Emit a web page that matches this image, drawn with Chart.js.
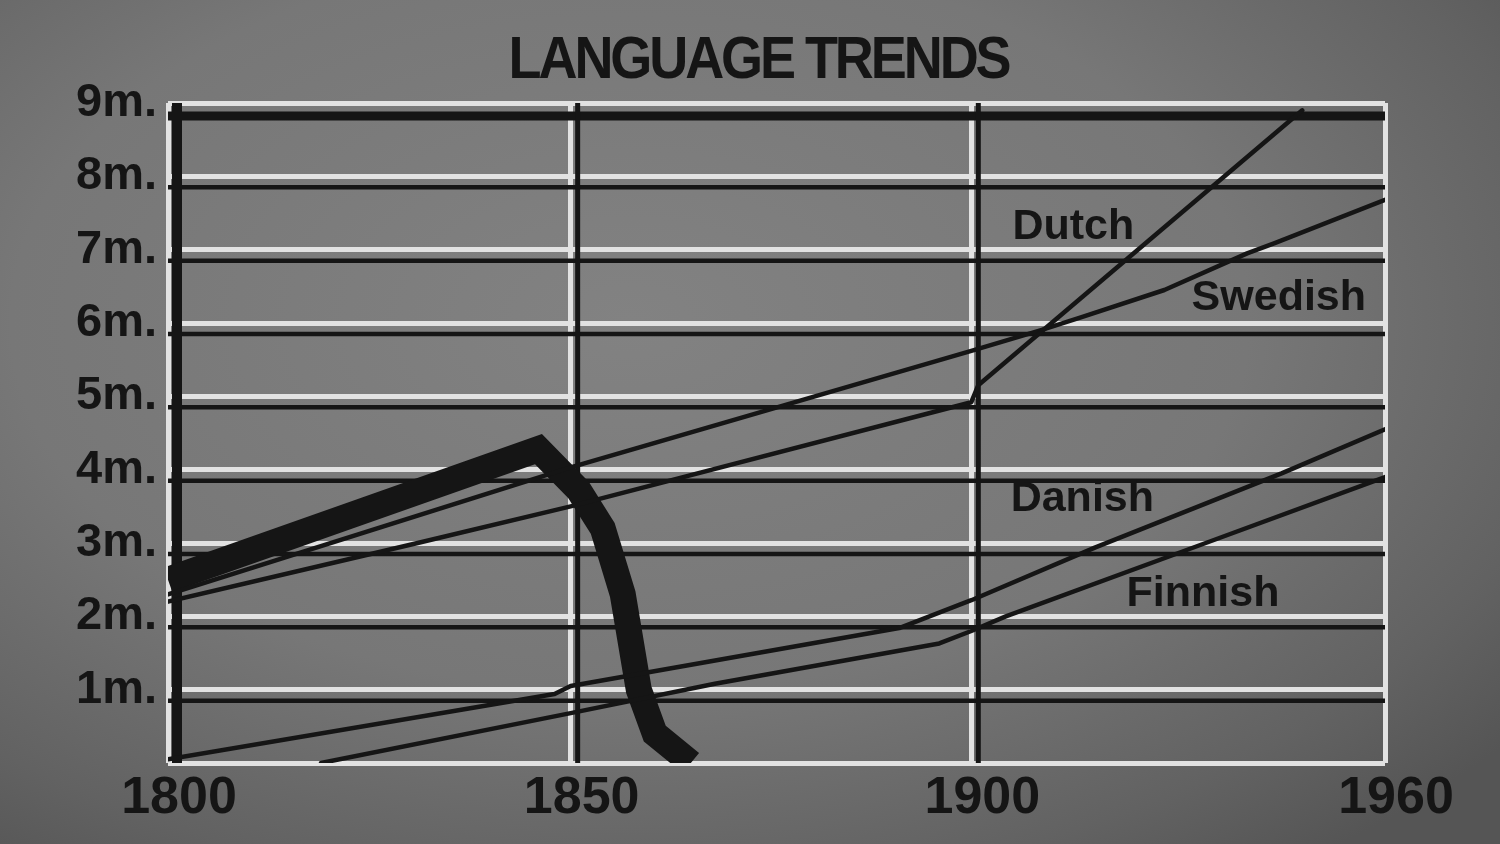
<!DOCTYPE html>
<html>
<head>
<meta charset="utf-8">
<title>Language Trends</title>
<script src="https://cdn.jsdelivr.net/npm/chart.js@4.4.1/dist/chart.umd.min.js"></script>
<style>
  html, body { margin: 0; padding: 0; overflow: hidden; }
  body {
    width: 1500px; height: 844px;
    background: radial-gradient(ellipse 75% 80% at 42% 38%, #828282 0%, #777777 55%, #626262 85%, #555555 100%);
  }
  #wrap { position: relative; width: 1500px; height: 844px; }
</style>
</head>
<body>
<div id="wrap"><canvas id="trendChart"></canvas></div>
<script>
// values in millions of speakers
const titleText = 'LANGUAGE TRENDS';
const xTicks = [1800, 1850, 1900, 1960];
const xTickLabels = ['1800', '1850', '1900', '1960'];
const yTickLabels = ['', '1m.', '2m.', '3m.', '4m.', '5m.', '6m.', '7m.', '8m.', '9m.'];

const irishYears = [1800, 1846, 1851, 1854, 1856.5, 1858.5, 1860.5, 1865];
const irishValues = [2.5, 4.28, 3.72, 3.2, 2.3, 1.0, 0.4, 0];

const dutchYears = [1800, 1831, 1850, 1900, 1901, 1948];
const dutchValues = [2.2, 3.0, 3.5, 4.92, 5.15, 8.9];

const swedishYears = [1800, 1850, 1900, 1910, 1916, 1928, 1940, 1944, 1960];
const swedishValues = [2.3, 4.03, 5.62, 5.9, 6.08, 6.45, 6.95, 7.09, 7.68];

const danishYears = [1800, 1848, 1850, 1891, 1900, 1918, 1945, 1960];
const danishValues = [0.05, 0.94, 1.05, 1.84, 2.22, 2.94, 3.95, 4.55];

const finnishYears = [1819, 1850, 1868, 1896, 1900, 1905, 1934, 1960];
const finnishValues = [0, 0.68, 1.08, 1.63, 1.8, 2.0, 3.0, 3.9];

const toPoints = (xs, ys) => xs.map((x, i) => ({ x: x, y: ys[i] }));

// the drawn time axis is not to scale: each period gets its own width
const segmentWidths = [402, 400, 413];

class SegmentScale extends Chart.LinearScale {
  static id = 'segment';
  static defaults = Chart.LinearScale.defaults;

  fractions() {
    const total = segmentWidths.reduce((a, b) => a + b, 0);
    const f = [0];
    segmentWidths.forEach(w => f.push(f[f.length - 1] + w / total));
    return f;
  }
  getPixelForValue(value) {
    if (value === null || value === undefined || isNaN(value)) return NaN;
    const b = xTicks, f = this.fractions();
    let i = 0;
    while (i < b.length - 2 && value > b[i + 1]) i++;
    const d = f[i] + (value - b[i]) / (b[i + 1] - b[i]) * (f[i + 1] - f[i]);
    return this.getPixelForDecimal(d);
  }
  getValueForPixel(pixel) {
    const d = this.getDecimalForPixel(pixel);
    const b = xTicks, f = this.fractions();
    let i = 0;
    while (i < f.length - 2 && d > f[i + 1]) i++;
    return b[i] + (d - f[i]) / (f[i + 1] - f[i]) * (b[i + 1] - b[i]);
  }
}
Chart.register(SegmentScale);

const ink = '#151515';
const font = "'Liberation Sans', Arial, Helvetica, sans-serif";

// black rules of the printed chart, sitting just off the white grid
const shadowGrid = {
  id: 'shadowGrid',
  beforeDatasetsDraw(chart) {
    const { ctx, chartArea: a, scales } = chart;
    ctx.save();
    ctx.strokeStyle = ink;
    for (let v = 1; v <= 9; v++) {
      const py = scales.y.getPixelForValue(v) + (v === 9 ? 13 : 11);
      ctx.lineWidth = v === 9 ? 9 : 4.5;
      ctx.beginPath();
      ctx.moveTo(a.left, py);
      ctx.lineTo(a.right, py);
      ctx.stroke();
    }
    xTicks.slice(0, -1).forEach((t, i) => {
      const px = scales.x.getPixelForValue(t) + (i === 0 ? 9 : 7);
      ctx.lineWidth = i === 0 ? 10 : 5;
      ctx.beginPath();
      ctx.moveTo(px, a.top);
      ctx.lineTo(px, a.bottom);
      ctx.stroke();
    });
    ctx.restore();
  }
};

// title and the names written beside the lines
const chartText = {
  id: 'chartText',
  afterDraw(chart, args, opts) {
    const { ctx, scales } = chart;
    ctx.save();
    ctx.fillStyle = ink;
    ctx.textAlign = 'center';
    ctx.textBaseline = 'middle';

    // the title lettering is slightly condensed and tightly set
    ctx.font = 'bold 60px ' + font;
    const plain = ctx.measureText(titleText).width;
    const squeeze = 0.9;
    ctx.save();
    ctx.translate(opts.titleX, opts.titleY);
    ctx.scale(squeeze, 1);
    if ('letterSpacing' in ctx) {
      const gap = (opts.titleWidth / squeeze - plain) / (titleText.length - 1);
      ctx.letterSpacing = gap + 'px';
      ctx.fillText(titleText, -gap / 2, 0);
    } else {
      ctx.scale(opts.titleWidth / (plain * squeeze), 1);
      ctx.fillText(titleText, 0, 0);
    }
    ctx.restore();

    ctx.font = 'bold 43px ' + font;
    opts.labels.forEach(l => {
      ctx.fillText(l.text, scales.x.getPixelForValue(l.year), scales.y.getPixelForValue(l.value));
    });
    ctx.restore();
  }
};

const thin = { borderColor: ink, borderWidth: 4.5, pointRadius: 0, tension: 0, borderJoinStyle: 'round', borderCapStyle: 'round', fill: false };

new Chart(document.getElementById('trendChart'), {
  type: 'line',
  data: {
    datasets: [
      Object.assign({}, thin, { label: 'Finnish', data: toPoints(finnishYears, finnishValues) }),
      Object.assign({}, thin, { label: 'Danish', data: toPoints(danishYears, danishValues) }),
      Object.assign({}, thin, { label: 'Dutch', data: toPoints(dutchYears, dutchValues) }),
      Object.assign({}, thin, { label: 'Swedish', data: toPoints(swedishYears, swedishValues) }),
      Object.assign({}, thin, { label: 'Irish', data: toPoints(irishYears, irishValues), borderWidth: 26, borderJoinStyle: 'miter', borderCapStyle: 'butt' })
    ]
  },
  options: {
    responsive: true,
    maintainAspectRatio: false,
    devicePixelRatio: 1,
    animation: false,
    layout: { padding: { top: 103, right: 115, bottom: 0, left: 0 } },
    plugins: {
      legend: { display: false },
      title: { display: false },
      tooltip: { enabled: false },
      chartText: {
        titleX: 757,
        titleY: 61,
        titleWidth: 503,
        labels: [
          { text: 'Dutch', year: 1914.8, value: 7.31 },
          { text: 'Swedish', year: 1944.6, value: 6.34 },
          { text: 'Danish', year: 1916.1, value: 3.6 },
          { text: 'Finnish', year: 1933.6, value: 2.3 }
        ]
      }
    },
    scales: {
      x: {
        type: 'segment',
        min: 1800,
        max: 1960,
        z: 1,
        afterBuildTicks: scale => { scale.ticks = xTicks.map(v => ({ value: v })); },
        afterFit: scale => { scale.height = 81; },
        grid: { color: '#e2e2e2', lineWidth: 5, drawTicks: false },
        border: { display: false },
        ticks: {
          autoSkip: false,
          maxRotation: 0,
          padding: 4,
          labelOffset: 11,
          color: ink,
          font: { family: font, size: 52, weight: 'bold' },
          callback: v => xTickLabels[xTicks.indexOf(v)]
        }
      },
      y: {
        min: 0,
        max: 9,
        z: 1,
        afterFit: scale => { scale.width = 168; },
        grid: { color: '#e2e2e2', lineWidth: 5, drawTicks: false },
        border: { display: false },
        ticks: {
          stepSize: 1,
          autoSkip: false,
          padding: 11,
          color: ink,
          font: { family: font, size: 47, weight: 'bold' },
          callback: v => yTickLabels[v]
        }
      }
    }
  },
  plugins: [shadowGrid, chartText]
});
</script>
</body>
</html>
